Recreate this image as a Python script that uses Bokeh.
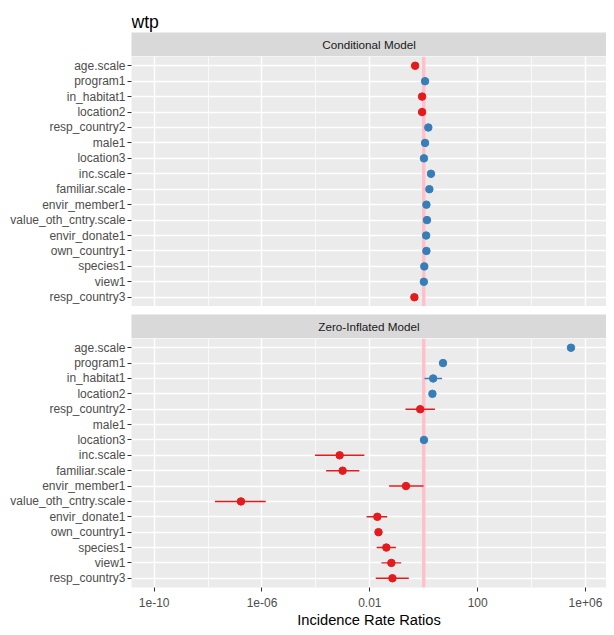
from bokeh.plotting import figure
from bokeh.models import Range1d, FactorRange, FixedTicker, CustomJSTickFormatter, Span, ColumnDataSource
from bokeh.layouts import column, Spacer
from bokeh.core.properties import value
from bokeh.embed import file_html
from bokeh.resources import INLINE

nan = float("nan")

terms = ["age.scale", "program1", "in_habitat1", "location2", "resp_country2",
         "male1", "location3", "inc.scale", "familiar.scale", "envir_member1",
         "value_oth_cntry.scale", "envir_donate1", "own_country1", "species1",
         "view1", "resp_country3"]

# conditional model (IRR, lower CI, upper CI)
cond_est = [0.48, 1.12, 0.87, 0.87, 1.48, 1.12, 1.02, 1.86, 1.62, 1.26, 1.32, 1.23, 1.26, 1.05, 1.01, 0.45]
cond_lo = [0.44, 1.06, 0.82, 0.82, 1.38, 1.06, 0.96, 1.74, 1.52, 1.19, 1.24, 1.16, 1.19, 0.99, 0.95, 0.41]
cond_hi = [0.52, 1.18, 0.92, 0.92, 1.58, 1.18, 1.08, 1.98, 1.72, 1.33, 1.40, 1.30, 1.33, 1.11, 1.07, 0.49]

# zero-inflated model
zi_est = [2.9e5, 5.2, 2.24, 2.1, 0.74, nan, 1.02, 7.6e-4, 9.8e-4, 0.22, 1.66e-7, 0.019, 0.021, 0.041, 0.063, 0.069]
zi_lo = [2.3e5, 4.2, 1.07, 1.7, 0.21, nan, 0.9, 9.3e-5, 2.4e-4, 0.052, 1.8e-8, 0.0076, 0.017, 0.018, 0.027, 0.0166]
zi_hi = [3.6e5, 6.4, 4.8, 2.6, 2.6, nan, 1.15, 6.3e-3, 4.1e-3, 0.98, 1.38e-6, 0.044, 0.026, 0.093, 0.145, 0.28]

tick_values = [1e-10, 1e-6, 1e-2, 1e2, 1e6]
tick_labels = ["1e-10", "1e-06", "0.01", "100", "1e+06"]
minor_values = [1e-8, 1e-4, 1, 1e4]

RED = "#E41A1C"
BLUE = "#377EB8"
FONT = "Liberation Sans"
W = 606
LEFT = 131

x_range = Range1d(10 ** -10.84, 10 ** 6.78)

fmt = CustomJSTickFormatter(args=dict(vals=tick_values, labs=tick_labels), code="""
let best = 0, bd = Infinity;
for (let i = 0; i < vals.length; i++) {
  const d = Math.abs(Math.log10(tick) - Math.log10(vals[i]));
  if (d < bd) { bd = d; best = i; }
}
return labs[best];
""")


def bare(height, bg):
    f = figure(width=W, height=height, x_range=(0, 1), y_range=(0, height),
               x_axis_location=None, y_axis_location=None,
               output_backend="svg", toolbar_location=None,
               min_border_left=LEFT, min_border_right=0,
               min_border_top=0, min_border_bottom=0)
    f.grid.visible = False
    f.outline_line_color = None
    f.background_fill_color = bg
    f.border_fill_color = "white"
    return f


def strip(label):
    s = bare(24, "#D9D9D9")
    s.text(x=[0.5], y=[12], text=[label], text_align="center", text_baseline="middle",
           text_font=value(FONT), text_font_size="11.7px", text_color="#1A1A1A")
    return s


def panel(est, lo, hi, height, show_x):
    src = ColumnDataSource(dict(
        term=terms, est=est, lo=lo, hi=hi,
        color=[BLUE if e > 1 else RED for e in est]))
    p = figure(width=W, height=height, x_axis_type="log", x_range=x_range,
               y_range=FactorRange(factors=terms[::-1], range_padding=0.0125),
               output_backend="svg", toolbar_location=None,
               min_border_left=LEFT, min_border_right=0,
               min_border_top=0, min_border_bottom=0)
    p.background_fill_color = "#EBEBEB"
    p.outline_line_color = None

    p.xaxis.ticker = FixedTicker(ticks=tick_values, minor_ticks=minor_values)
    p.xaxis.formatter = fmt
    p.xgrid.grid_line_color = "white"
    p.xgrid.grid_line_width = 1.4
    p.xgrid.minor_grid_line_color = "white"
    p.xgrid.minor_grid_line_width = 0.7
    p.ygrid.grid_line_color = "white"
    p.ygrid.grid_line_width = 1.4

    for ax in (p.xaxis, p.yaxis):
        ax.axis_line_color = None
        ax.major_tick_line_color = "#333333"
        ax.major_tick_out = 4
        ax.major_tick_in = 0
        ax.minor_tick_line_color = None
        ax.major_label_text_font = FONT
        ax.major_label_text_font_size = "12px"
        ax.major_label_text_color = "#4D4D4D"
    p.yaxis.major_label_standoff = 2
    p.xaxis.major_label_standoff = 6

    if show_x:
        p.xaxis.axis_label = "Incidence Rate Ratios"
        p.xaxis.axis_label_text_font = FONT
        p.xaxis.axis_label_text_font_size = "14.7px"
        p.xaxis.axis_label_text_font_style = "normal"
        p.xaxis.axis_label_text_color = "black"
        p.xaxis.axis_label_standoff = 2
    else:
        p.xaxis.visible = False

    p.add_layout(Span(location=1, dimension="height", line_color="#FFC0CB",
                      line_width=3.5, level="underlay"))
    p.segment(x0="lo", y0="term", x1="hi", y1="term", source=src,
              line_color="color", line_width=1.4)
    p.scatter(x="est", y="term", source=src, size=7.5, marker="circle",
              fill_color="color", line_color="color")
    return p


head = bare(32, "white")
head.text(x=[0], y=[11], text=["wtp"], text_align="left", text_baseline="alphabetic",
          text_font=value(FONT), text_font_size="17.6px", text_color="black")

p1 = panel(cond_est, cond_lo, cond_hi, 250, False)
p2 = panel(zi_est, zi_lo, zi_hi, 292, True)

layout = column(head, strip("Conditional Model"), p1, Spacer(height=8),
                strip("Zero-Inflated Model"), p2)

open("out.html", "w").write(file_html(layout, INLINE))
